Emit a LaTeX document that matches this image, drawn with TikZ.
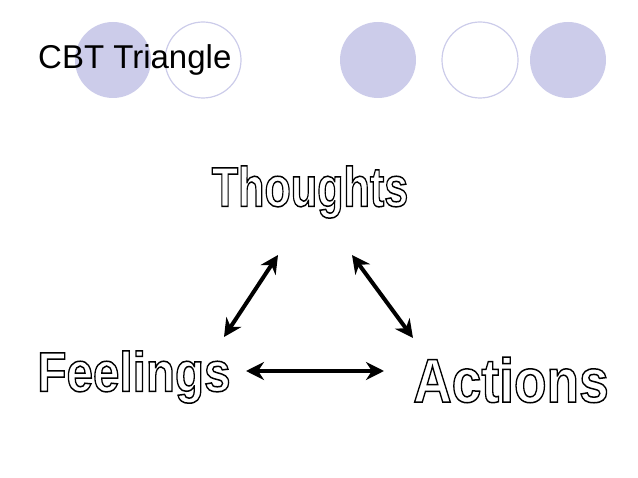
\documentclass[tikz,border=0pt]{standalone}
\usepackage{fontspec}
\setmainfont{Liberation Sans}
\usetikzlibrary{arrows.meta}
\definecolor{lav}{RGB}{204,204,234}
\newcommand{\outlined}[1]{\special{pdf:literal direct 1 Tr 1.5 w}#1\special{pdf:literal direct 0 Tr}}
\tikzset{
  dot/.style={circle, minimum size=76pt, inner sep=0pt},
  word/.style={font=\fontsize{56}{56}\selectfont\bfseries, inner sep=0pt},
  link/.style={line width=4pt, {Stealth[length=18pt,width=18pt]}-{Stealth[length=18pt,width=18pt]}}
}
\begin{document}
\begin{tikzpicture}[x=1pt,y=-1pt]
        \useasboundingbox (0,0) rectangle (638,478);
        % Draw the circles along the top
        \node[dot, fill=lav] (c1) at (113,60) {};
        \node[dot, draw=lav, line width=1.2pt, fill=white] (c2) at (203,60) {};
        \node[dot, fill=lav] (c3) at (378,60) {};
        \node[dot, draw=lav, line width=1.2pt, fill=white] (c4) at (480,60) {};
        \node[dot, fill=lav] (c5) at (568,60) {};
        
        % Title
        \node[anchor=west, font=\fontsize{33}{33}\selectfont, inner sep=0pt] (title) at (38,60) {CBT Triangle};
        
        % The three corners
        \node[word, xscale=0.77] (thoughts) at (310,192) {\outlined{Thoughts}};
        \node[word, xscale=0.85] (feelings) at (134,377) {\outlined{Feelings}};
        \node[word, font=\fontsize{62}{62}\selectfont\bfseries, xscale=0.86] (actions) at (511,380) {\outlined{Actions}};
        
        % Arrows between them
        \coordinate (t1) at (278,255);
        \coordinate (f1) at (224,337);
        \coordinate (t2) at (352,255);
        \coordinate (a1) at (413,338);
        \coordinate (f2) at (246,371);
        \coordinate (a2) at (384,371);
        \draw[link] (t1) -- (f1);
        \draw[link] (t2) -- (a1);
        \draw[link] (f2) -- (a2);
    \end{tikzpicture}
\end{document}
